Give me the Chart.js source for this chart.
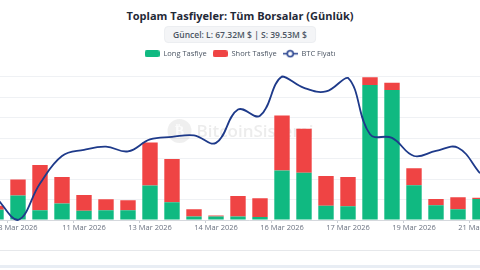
<!DOCTYPE html>
<html>
<head>
<meta charset="utf-8">
<script src="https://cdn.jsdelivr.net/npm/chart.js@4.4.1/dist/chart.umd.min.js"></script>
<style>
  html, body { margin:0; padding:0; width:480px; height:270px; overflow:hidden; background:#fff; font-family:"Open Sans", sans-serif; }
  #baslik { position:absolute; top:8px; left:0; width:480px; text-align:center; font-size:11px; font-weight:700; color:#1f2937; }
  #guncel { position:absolute; top:26px; left:50%; transform:translateX(-50%); height:15px; line-height:15px; padding:0 8px; font-size:8.5px; font-weight:600; color:#4b5563; background:#f4f5f7; border:1px solid #eceef1; border-radius:4px; white-space:nowrap; }
  #grafik { position:absolute; top:40px; left:-33px; width:546px; height:192px; }
  #kaydirici { position:absolute; top:250px; left:0; width:480px; height:14px; border-top:1px solid #e6e8eb; border-bottom:3px solid #e8edf4; }
</style>
</head>
<body>
<div id="baslik">Toplam Tasfiyeler: Tüm Borsalar (Günlük)</div>
<div id="guncel">Güncel: L: 67.32M $ | S: 39.53M $</div>
<div id="grafik"><canvas id="tasfiyeler"></canvas></div>
<div id="kaydirici"></div>
<script>
// Veriler (milyon $ ve BTC fiyatı)
var etiquetas = ["7 Mar 2026","8 Mar 2026","9 Mar 2026","10 Mar 2026","11 Mar 2026","12 Mar 2026","12 Mar 2026","13 Mar 2026","13 Mar 2026","14 Mar 2026","14 Mar 2026","15 Mar 2026","15 Mar 2026","16 Mar 2026","16 Mar 2026","17 Mar 2026","17 Mar 2026","18 Mar 2026","18 Mar 2026","19 Mar 2026","20 Mar 2026","20 Mar 2026","21 Mar 2026","22 Mar 2026"];
var longTasfiye = [5.0, 11.9, 4.7, 8.1, 4.5, 4.7, 4.7, 16.8, 8.7, 1.7, 1.7, 1.7, 1.5, 24.2, 23.0, 7.0, 6.7, 65.8, 63.4, 17.0, 7.2, 5.2, 10.2, null];
var shortTasfiye = [2.0, 7.9, 22.1, 12.9, 7.7, 5.4, 4.9, 21.0, 21.0, 3.5, 0.5, 10.0, 9.1, 26.8, 21.5, 14.5, 14.3, 3.8, 3.6, 8.2, 3.0, 5.9, 0.7, null];
var btcFiyati = [67100, 66000, 67765, 69100, 69400, 69550, 69325, 69900, 70025, 70100, 69735, 71350, 71050, 72950, 72400, 72225, 72885, 70150, 69975, 69100, 69350, 69500, 68265, null];

var verde = "#10b981";
var rojo = "#ef4444";
var azul = "#1e3a8a";

// Iconos de la leyenda
function kutu(renk){
  var c = document.createElement("canvas");
  c.width = 15; c.height = 7;
  var x = c.getContext("2d");
  x.fillStyle = renk;
  x.beginPath(); x.roundRect(0, 0, 15, 7, 2); x.fill();
  return c;
}
function cizgi(){
  var c = document.createElement("canvas");
  c.width = 15; c.height = 9;
  var x = c.getContext("2d");
  x.strokeStyle = azul; x.lineWidth = 1.5;
  x.beginPath(); x.moveTo(0, 4.5); x.lineTo(15, 4.5); x.stroke();
  x.fillStyle = "#fff";
  x.beginPath(); x.arc(7.5, 4.5, 3, 0, Math.PI*2); x.fill(); x.stroke();
  return c;
}
var iconos = [kutu(verde), kutu(rojo), cizgi()];

// margen bajo la leyenda
var margenLeyenda = {
  id: "margenLeyenda",
  beforeInit: function(chart){
    var fit = chart.legend.fit;
    chart.legend.fit = function(){ fit.bind(chart.legend)(); this.height += 9; };
  }
};

// marca de agua
var marca = {
  id: "marca",
  beforeDatasetsDraw: function(chart){
    var ctx = chart.ctx;
    var cx = 179.5 + 33, cy = 131 - 40;
    ctx.save();
    ctx.fillStyle = "rgba(120,120,120,0.12)";
    ctx.beginPath(); ctx.arc(cx, cy, 12, 0, Math.PI*2); ctx.fill();
    ctx.fillStyle = "rgba(255,255,255,0.8)";
    ctx.font = "bold 14px 'Open Sans'";
    ctx.textAlign = "center"; ctx.textBaseline = "middle";
    ctx.fillText("₿", cx, cy + 1);
    ctx.fillStyle = "rgba(120,120,120,0.14)";
    ctx.font = "600 17px 'Open Sans'";
    ctx.textAlign = "left";
    ctx.fillText("BitcoinSistemi", cx + 17, cy + 1);
    ctx.restore();
  }
};

var ctx = document.getElementById("tasfiyeler").getContext("2d");
var grafico = new Chart(ctx, {
  type: "bar",
  data: {
    labels: etiquetas,
    datasets: [{
      label: "Long Tasfiye",
      data: longTasfiye,
      backgroundColor: verde,
      stack: "t",
      order: 1,
      barPercentage: 0.7,
      categoryPercentage: 1
    }, {
      label: "Short Tasfiye",
      data: shortTasfiye,
      backgroundColor: rojo,
      stack: "t",
      order: 1,
      barPercentage: 0.7,
      categoryPercentage: 1
    }, {
      type: "line",
      label: "BTC Fiyatı",
      data: btcFiyati,
      yAxisID: "y1",
      borderColor: azul,
      backgroundColor: "#fff",
      borderWidth: 1.8,
      tension: 0.4,
      pointRadius: 0,
      clip: false,
      order: 0
    }]
  },
  options: {
    responsive: true,
    maintainAspectRatio: false,
    animation: false,
    devicePixelRatio: 1,
    layout: { padding: { top: 4, bottom: 0, left: 0, right: 0 } },
    plugins: {
      tooltip: { enabled: false },
      legend: {
        labels: {
          usePointStyle: true,
          pointStyleWidth: 15,
          padding: 6,
          color: "#4b5563",
          font: { family: "'Open Sans'", size: 7.5 },
          sort: function(a, b){ return a.datasetIndex - b.datasetIndex; },
          generateLabels: function(chart){
            var items = Chart.defaults.plugins.legend.labels.generateLabels(chart);
            items.forEach(function(it){ it.pointStyle = iconos[it.datasetIndex]; });
            return items;
          }
        }
      }
    },
    scales: {
      x: {
        stacked: true,
        border: { color: "#d5d8dd" },
        grid: {
          offset: true,
          drawOnChartArea: false,
          tickLength: 3,
          color: function(c){ return c.index % 3 === 1 ? "#c9cdd3" : "rgba(0,0,0,0)"; }
        },
        ticks: {
          autoSkip: false,
          maxRotation: 0,
          padding: 0,
          color: "#6b7280",
          font: { family: "'Open Sans'", size: 7.5 },
          callback: function(v, i){ return i % 3 === 1 ? etiquetas[i] : ""; }
        }
      },
      y: {
        stacked: true,
        min: 0,
        max: 70,
        afterFit: function(s){ s.width = 18; },
        border: { display: false },
        grid: { color: "#eff1f4", drawTicks: false },
        ticks: { display: false, stepSize: 10 }
      },
      y1: {
        display: false,
        min: 66000,
        max: 72950
      }
    }
  },
  plugins: [margenLeyenda, marca]
});
</script>
</body>
</html>
